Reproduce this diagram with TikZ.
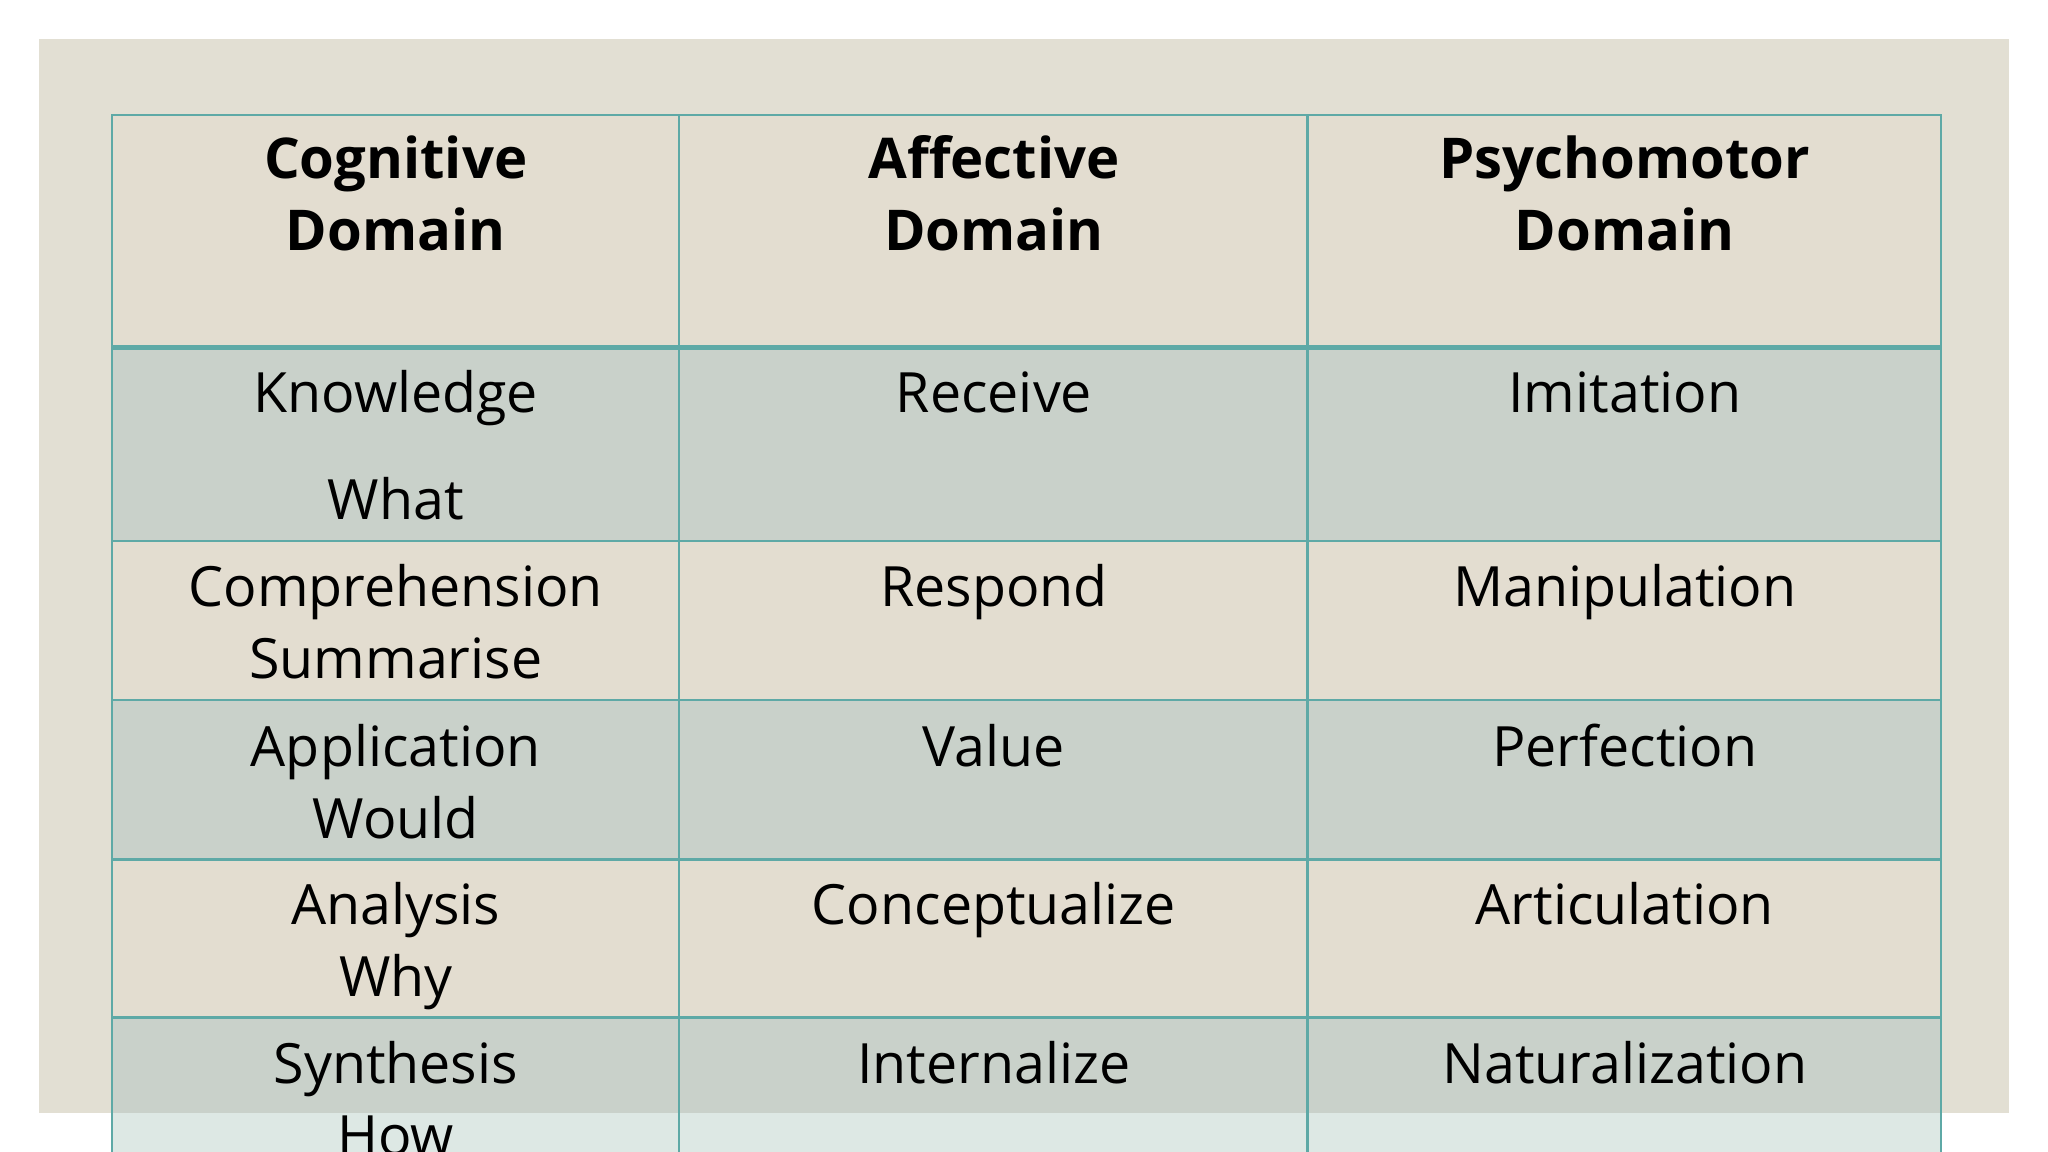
\documentclass[tikz,border=0pt]{standalone}
\usepackage{fontspec}
\setmainfont{Open Sans}
\definecolor{panel}{HTML}{E2DFD3}
\definecolor{beig}{HTML}{E3DDD0}
\definecolor{grayr}{HTML}{C9D1CA}
\definecolor{lite}{HTML}{DDE8E4}
\definecolor{teal}{HTML}{5EA9A6}
\begin{document}
\begin{tikzpicture}[x=0.02cm,y=-0.02cm,
  txt/.style={font=\fontsize{24.2}{30}\selectfont, text=black, inner sep=0pt, anchor=mid},
  hdr/.style={font=\fontsize{24.5}{30}\selectfont\bfseries, text=black, inner sep=0pt, anchor=mid}]
\useasboundingbox (0,0) rectangle (1568,882);
\clip (0,0) rectangle (1568,882);
\fill[white] (0,0) rectangle (1568,882);
\fill[panel] (30,30) rectangle (1538,852);
\fill[beig] (86,88) rectangle (1486,266);
\fill[grayr] (86,266) rectangle (1486,414);
\fill[beig] (86,414) rectangle (1486,536);
\fill[grayr] (86,536) rectangle (1486,658);
\fill[beig] (86,658) rectangle (1486,779);
\fill[grayr] (86,779) rectangle (1486,852);
\fill[lite] (86,852) rectangle (1486,882);
\draw[teal, line width=1pt] (86,88) rectangle (1486,900);
\foreach \x in {520,1001} \draw[teal, line width=1pt] (\x,88) -- (\x,900);
\draw[teal, line width=2pt] (86,266) -- (1486,266);
\foreach \y in {414,536,658,779} \draw[teal, line width=1pt] (86,\y) -- (1486,\y);
\node[hdr] (h1a) at (303,132) {Cognitive};
\node[hdr] (h1b) at (303,187) {Domain};
\node[hdr] (h2a) at (761,132) {Affective};
\node[hdr] (h2b) at (761,187) {Domain};
\node[hdr] (h3a) at (1244,132) {Psychomotor};
\node[hdr] (h3b) at (1244,187) {Domain};
\node[txt] (a1) at (303,311) {Knowledge};
\node[txt] (a1b) at (303,393) {What};
\node[txt] (a2) at (303,460) {Comprehension};
\node[txt] (a2b) at (303,515) {Summarise};
\node[txt] (a3) at (303,582) {Application};
\node[txt] (a3b) at (303,637) {Would};
\node[txt] (a4) at (303,703) {Analysis};
\node[txt] (a4b) at (303,758) {Why};
\node[txt] (a5) at (303,825) {Synthesis};
\node[txt] (a5b) at (303,880) {How};
\node[txt] (b1) at (761,311) {Receive};
\node[txt] (b2) at (761,460) {Respond};
\node[txt] (b3) at (761,582) {Value};
\node[txt] (b4) at (761,703) {Conceptualize};
\node[txt] (b5) at (761,825) {Internalize};
\node[txt] (c1) at (1244,311) {Imitation};
\node[txt] (c2) at (1244,460) {Manipulation};
\node[txt] (c3) at (1244,582) {Perfection};
\node[txt] (c4) at (1244,703) {Articulation};
\node[txt] (c5) at (1244,825) {Naturalization};
\end{tikzpicture}
\end{document}
